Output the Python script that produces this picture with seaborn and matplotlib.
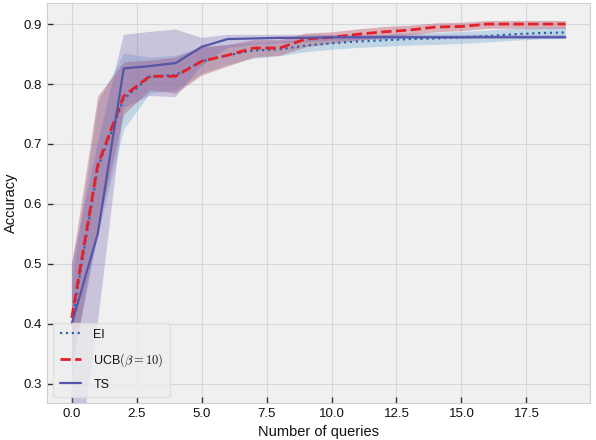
import numpy as np
import pandas as pd
import matplotlib
matplotlib.use("Agg")
import matplotlib.pyplot as plt
import seaborn as sns

# datos
queries = list(range(20))

ei_mean = [0.40, 0.66, 0.775, 0.812, 0.815, 0.838, 0.848, 0.856, 0.858, 0.864,
           0.868, 0.871, 0.873, 0.875, 0.876, 0.878, 0.880, 0.883, 0.885, 0.886]
ei_lo = [0.33, 0.55, 0.725, 0.785, 0.790, 0.818, 0.833, 0.843, 0.847, 0.854,
         0.858, 0.861, 0.863, 0.865, 0.866, 0.868, 0.870, 0.873, 0.875, 0.876]
ei_hi = [0.47, 0.77, 0.852, 0.845, 0.848, 0.862, 0.866, 0.869, 0.871, 0.875,
         0.878, 0.881, 0.883, 0.885, 0.886, 0.888, 0.890, 0.893, 0.895, 0.896]

ucb_mean = [0.41, 0.665, 0.78, 0.813, 0.813, 0.838, 0.848, 0.860, 0.860, 0.875,
            0.878, 0.883, 0.887, 0.890, 0.895, 0.896, 0.900, 0.900, 0.900, 0.900]
ucb_lo = [0.33, 0.56, 0.75, 0.790, 0.785, 0.815, 0.830, 0.845, 0.848, 0.862,
          0.868, 0.873, 0.878, 0.882, 0.887, 0.889, 0.893, 0.893, 0.893, 0.893]
ucb_hi = [0.50, 0.78, 0.837, 0.840, 0.845, 0.862, 0.866, 0.874, 0.874, 0.885,
          0.887, 0.892, 0.896, 0.898, 0.902, 0.903, 0.906, 0.906, 0.906, 0.906]

ts_mean = [0.40, 0.55, 0.826, 0.830, 0.835, 0.862, 0.875, 0.876, 0.877, 0.877,
           0.878, 0.878, 0.878, 0.878, 0.878, 0.878, 0.878, 0.878, 0.878, 0.878]
ts_lo = [0.10, 0.40, 0.760, 0.780, 0.778, 0.830, 0.860, 0.866, 0.868, 0.870,
         0.872, 0.873, 0.874, 0.875, 0.875, 0.875, 0.876, 0.876, 0.876, 0.876]
ts_hi = [0.50, 0.70, 0.882, 0.887, 0.891, 0.877, 0.882, 0.882, 0.882, 0.882,
         0.882, 0.882, 0.882, 0.882, 0.882, 0.882, 0.882, 0.882, 0.882, 0.882]

sns.set_style("whitegrid", rc={"axes.facecolor": "#f0f0f0",
                               "grid.color": "#d4d7de",
                               "axes.edgecolor": "#d0d0d0",
                               "text.color": "#111111",
                               "axes.labelcolor": "#111111",
                               "xtick.color": "#111111",
                               "ytick.color": "#111111"})
plt.rcParams["font.family"] = ["Liberation Sans", "DejaVu Sans"]
plt.rcParams["mathtext.fontset"] = "cm"

fig, ax = plt.subplots(figsize=(5.96, 4.4), dpi=100)
fig.subplots_adjust(left=0.079, right=0.99, top=0.993, bottom=0.084)

# bandas
ax.fill_between(queries, ei_lo, ei_hi, color="#6aa6d2", alpha=0.35, lw=0)
ax.fill_between(queries, ucb_lo, ucb_hi, color="#b03a55", alpha=0.35, lw=0)
ax.fill_between(queries, ts_lo, ts_hi, color="#7a68b5", alpha=0.33, lw=0)

# lineas
sns.lineplot(x=queries, y=ei_mean, ax=ax, color="#2b62b0", lw=1.6,
             linestyle=":", label="EI")
sns.lineplot(x=queries, y=ucb_mean, ax=ax, color="#e3202a", lw=2.0,
             linestyle="--", label=r"UCB$(\beta=10)$")
sns.lineplot(x=queries, y=ts_mean, ax=ax, color="#5555a8", lw=1.6,
             linestyle="-", label="TS")

ax.set_xlim(-0.95, 19.95)
ax.set_ylim(0.268, 0.935)
ax.set_xticks([0, 2.5, 5, 7.5, 10, 12.5, 15, 17.5])
ax.set_xticklabels(["0.0", "2.5", "5.0", "7.5", "10.0", "12.5", "15.0", "17.5"])
ax.set_yticks([0.3, 0.4, 0.5, 0.6, 0.7, 0.8, 0.9])
ax.tick_params(axis="both", direction="in", length=4, width=1,
               color="#333333", labelsize=9.5, bottom=True, left=True)
ax.set_xlabel("Number of queries", fontsize=10.5)
ax.set_ylabel("Accuracy", fontsize=10.5)

leg = ax.legend(loc="lower left", fontsize=9, handlelength=1.7,
                handletextpad=1.0, frameon=True, facecolor="#eeeeee",
                edgecolor="#dddddd", framealpha=0.8, borderpad=0.5,
                labelspacing=0.8)

plt.savefig("out.png", dpi=100)
